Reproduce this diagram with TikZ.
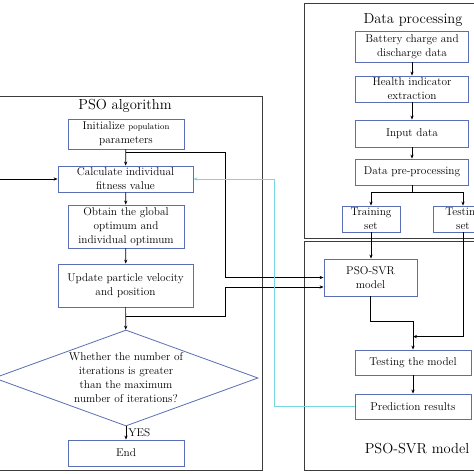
\documentclass[tikz,border=0pt]{standalone}
\usetikzlibrary{arrows.meta,shapes.geometric,calc}
\definecolor{boxblue}{RGB}{90,110,180}
\definecolor{framegray}{RGB}{60,60,60}
\definecolor{cyanline}{RGB}{120,215,222}
\begin{document}
\begin{tikzpicture}[x=1pt,y=-1pt,
  proc/.style={draw=boxblue,line width=0.8pt,fill=white,align=center,inner sep=1pt,
    font=\fontsize{11.3}{14}\selectfont},
  framebox/.style={draw=framegray,line width=1pt},
  title/.style={font=\fontsize{14.5}{17}\selectfont,inner sep=0pt},
  arr/.style={draw=black,line width=0.7pt,-{Stealth[length=4pt,width=3.2pt]}},
  plain/.style={draw=black,line width=0.7pt}]
\clip (0,0) rectangle (474,474);
\fill[white] (0,0) rectangle (474,474);
% containers
\draw[framebox] (-5,96) rectangle (262,470);
\draw[framebox] (304,3) rectangle (480,238);
\draw[framebox] (304,241) rectangle (480,470);
% titles
\node[title] (t1) at (125,106) {PSO algorithm};
\node[title] (t2) at (413,20) {Data processing};
\node[title] (t3) at (417,449) {PSO-SVR model};
% PSO nodes
\node[proc,minimum width=116pt,minimum height=30pt] (init) at (126,134)
  {Initialize {\fontsize{8.5}{10}\selectfont population}\\parameters};
\node[proc,minimum width=135pt,minimum height=26pt] (calc) at (125.5,179)
  {Calculate individual\\fitness value};
\node[proc,minimum width=116pt,minimum height=43pt] (obt) at (126,226.5)
  {Obtain the global\\optimum and\\individual optimum};
\node[proc,minimum width=135pt,minimum height=43pt] (upd) at (125.5,285.5)
  {Update particle velocity\\and position};
\node[diamond,draw=boxblue,line width=0.8pt,inner sep=0pt,minimum width=264pt,
  minimum height=96pt] (dia) at (126,378) {};
\node[align=center,font=\fontsize{11.3}{14}\selectfont] (diatext) at (126,378)
  {Whether the number of\\iterations is greater\\than the maximum\\number of iterations?};
\node[proc,minimum width=116pt,minimum height=26pt] (endn) at (126,453) {End};
% data processing nodes
\node[proc,minimum width=113pt,minimum height=31pt] (batt) at (412,46.5)
  {Battery charge and\\discharge data};
\node[proc,minimum width=113pt,minimum height=26pt] (hi) at (412,89)
  {Health indicator\\extraction};
\node[proc,minimum width=113pt,minimum height=27pt] (inp) at (412,133.5) {Input data};
\node[proc,minimum width=113pt,minimum height=26pt] (pre) at (412,172) {Data pre-processing};
\node[proc,minimum width=58pt,minimum height=26pt] (train) at (371,219) {Training\\set};
\node[proc,minimum width=60pt,minimum height=26pt] (test) at (463,219) {Testing\\set};
% PSO-SVR nodes
\node[proc,minimum width=93pt,minimum height=37pt] (svr) at (370.5,277.5) {PSO-SVR\\model};
\node[proc,minimum width=116pt,minimum height=25pt] (tm) at (413,362.5) {Testing the model};
\node[proc,minimum width=116pt,minimum height=25pt] (pr) at (413,406.5) {Prediction results};
% PSO connectors
\draw[arr] (init) -- (calc);
\draw[arr] (calc) -- (obt);
\draw[arr] (obt) -- (upd);
\draw[arr] (upd) -- (dia);
\draw[arr] (dia) -- node[right,font=\fontsize{11.3}{12}\selectfont,inner sep=2pt] (yes) {YES} (endn);
\coordinate (loopin) at (-3,179);
\draw[arr] (loopin) -- (calc.west);
\coordinate (j1) at ($(init.south)+(0,3)$);
\draw[arr] (j1) -| (225,277.5) -- (svr.west);
\coordinate (j2) at ($(upd.south)+(0,9)$);
\draw[arr] (j2) -| (225,287) -- ($(svr.west)+(0,9.5)$);
\draw[arr,draw=cyanline] (pr.west) -| (274,179) -- (calc.east);
% data connectors
\draw[arr] (batt) -- (hi);
\draw[arr] (hi) -- (inp);
\draw[arr] (inp) -- (pre);
\coordinate (br) at ($(pre.south)+(0,7)$);
\draw[plain] (pre.south) -- (br);
\draw[arr] (br) -| (train.north);
\draw[arr] (br) -| (test.north);
\draw[arr] (train.south) -- (train.south |- svr.north);
\draw[arr] (svr.south) |- ($(tm.north)+(0,-28)$) -- (tm.north);
\draw[arr] (test.south) |- ($(tm.north)+(0,-13)$);
\draw[arr] (tm) -- (pr);
\end{tikzpicture}
\end{document}
